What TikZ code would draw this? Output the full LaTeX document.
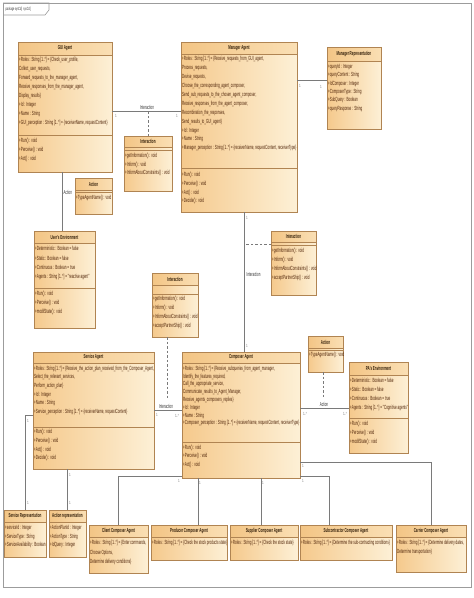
\documentclass[tikz,border=0pt]{standalone}
\usepackage{fontspec}
\newfontfamily\uf[FakeStretch=0.51]{Liberation Sans}
\usetikzlibrary{shadows,calc,arrows.meta}
\definecolor{bodyL}{HTML}{F5C98C}
\definecolor{bodyR}{HTML}{FDF0D6}
\definecolor{hdrL}{HTML}{F3C585}
\definecolor{hdrR}{HTML}{FADFB4}
\definecolor{bord}{HTML}{B08452}
\definecolor{txtc}{HTML}{4E2308}
\definecolor{ttlc}{HTML}{34200A}
\definecolor{wire}{HTML}{7A7A7A}
\definecolor{framec}{HTML}{9C9C9C}
\tikzset{
 cls/.style={draw=bord, line width=0.5pt, left color=bodyL, right color=bodyR, inner sep=0pt, outer sep=0pt,
   drop shadow={shadow xshift=1.3pt, shadow yshift=-1.3pt, opacity=0.3, fill=black}},
 hdr/.style={draw=bord, line width=0.5pt, left color=hdrL, right color=hdrR, inner sep=0pt, outer sep=0pt,
   font=\uf\bfseries\fontsize{5.8}{6}\selectfont, text=ttlc},
 utext/.style={inner sep=0pt, outer sep=0pt, align=left, text=txtc, anchor=north west},
 sepl/.style={draw=bord, line width=0.5pt},
 assoc/.style={draw=wire, line width=0.6pt},
 dashl/.style={draw=wire, line width=0.6pt, dash pattern=on 2.5pt off 2pt},
 lbl/.style={inner sep=0.5pt, font=\uf\fontsize{5.8}{6}\selectfont, text=black!80},
 mult/.style={inner sep=0.5pt, font=\uf\fontsize{4.5}{5}\selectfont, text=black!65},
}
\newcommand\ucls[7]{%
 \node[cls, minimum width=#4pt, minimum height=#5pt, anchor=north west] (#1) at (#2,#3) {};
 \node[hdr, minimum width=#4pt, minimum height=#6pt, anchor=north west] (#1-t) at (#1.north west) {#7};}
\newcommand\usep[2]{\draw[sepl] ([yshift=-#2pt]#1.north west) -- ([yshift=-#2pt]#1.north east);}
\newcommand\utxt[5]{\node[utext, font=\uf\fontsize{6}{#4}\selectfont] (#1) at ([xshift=1.2pt,yshift=-#3pt]#2.north west) {#5};}
\begin{document}
\begin{tikzpicture}[x=1pt,y=-1pt]
\useasboundingbox (0,0) rectangle (474,598);
\fill[white] (0,0) rectangle (474,598);
% package frame
\node[draw=framec, line width=0.7pt, minimum width=468pt, minimum height=584pt, anchor=north west, inner sep=0pt] (pkg) at (3,3) {};
\draw[draw=framec, line width=0.6pt] (pkg.north west) -- ++(46,0) -- ++(0,7) -- ++(-4,5) -- ++(-42,0);
\node[lbl, font=\uf\fontsize{4.5}{5}\selectfont, anchor=west] (tab) at (5,9) {package sysCd[ \,sysCd ]};

% ---------- classes ----------
\ucls{gui}{18}{42}{94}{130}{13}{GUI Agent}
\usep{gui}{93}
\utxt{gui-a}{gui}{15.5}{8.9}{+Roles : String [1..*] = \{Check\_user\_profile,\\
Collect\_user\_requests,\\
Forward\_requests\_to\_the\_manager\_agent,\\
Receive\_responses\_from\_the\_manager\_agent,\\
Display\_results\}\\
+Id : Integer\\
+Name : String\\
+GUI\_perception : String [1..*] = \{receiverName, requestContent\}}
\utxt{gui-o}{gui}{96.5}{8.6}{+Run() : void\\ +Perceive() : void\\ +Act() : void}

\ucls{mgr}{181}{42}{116}{170}{12}{Manager Agent}
\usep{mgr}{126}
\utxt{mgr-a}{mgr}{14.5}{8.9}{+Roles : String [1..*] = \{Receive\_requests\_from\_GUI\_agent,\\
Process\_requests,\\
Devise\_requests,\\
Choose\_the\_corresponding\_agent\_composer,\\
Send\_sub\_requests\_to\_the\_chosen\_agent\_composer,\\
Receive\_responses\_from\_the\_agent\_composer,\\
Recombination\_the\_responses,\\
Send\_results\_to\_GUI\_agent\}\\
+Id : Integer\\
+Name : String\\
+Manager\_perception : String [1..*] = \{receiverName, requestContent, receiverType\}}
\utxt{mgr-o}{mgr}{130.5}{8.7}{+Run() : void\\ +Perceive() : void\\ +Act() : void\\ +Decide() : void}

\ucls{mrep}{327}{47}{54}{82}{14}{Manager Representation}
\utxt{mrep-a}{mrep}{17}{8.4}{+queryId : Integer\\ +queryContent : String\\ +IdComposer : Integer\\ +ComposerType : String\\ +SubQuery : Boolean\\ +queryResponse : String}

\ucls{itop}{124}{136}{48}{55}{11}{Interaction}
\usep{itop}{14}
\utxt{itop-o}{itop}{17}{8.8}{+getInformation() : void\\ +Inform() : void\\ +InformAboutConstraints() : void}

\ucls{act1}{75}{178}{37}{36}{12}{Action}
\usep{act1}{14}
\utxt{act1-o}{act1}{17}{8.6}{+TypeAgentName() : void}

\ucls{uenv}{34}{231}{61}{97}{12}{User's Environment}
\usep{uenv}{57}
\utxt{uenv-a}{uenv}{15.5}{9.2}{+Deterministic : Boolean = false\\ +Static : Boolean = false\\ +Continuous : Boolean = true\\ +Agents : String [1..*] = "reactive agent"}
\utxt{uenv-o}{uenv}{60.5}{9}{+Run() : void\\ +Perceive() : void\\ +modifState() : void}

\ucls{iright}{271}{231}{45}{64}{11}{Interaction}
\usep{iright}{14}
\utxt{iright-o}{iright}{17.5}{8.8}{+getInformation() : void\\ +Inform() : void\\ +InformAboutConstraints() : void\\ +acceptPartnerShip() : void}

\ucls{imid}{152}{273}{46}{64}{12}{Interaction}
\usep{imid}{21}
\utxt{imid-o}{imid}{23.5}{9}{+getInformation() : void\\ +Inform() : void\\ +InformAboutConstraints() : void\\ +acceptPartnerShip() : void}

\ucls{comp}{182}{352}{118}{126}{11}{Composer Agent}
\usep{comp}{90}
\utxt{comp-a}{comp}{14}{7.8}{+Roles : String [1..*] = \{Receive\_subqueries\_from\_agent\_manager,\\
Identify\_the\_features\_required,\\
Call\_the\_appropriate\_service,\\
Communicate\_results\_to\_Agent\_Manager,\\
Receive\_agents\_composers\_replies\}\\
+Id : Integer\\
+Name : String\\
+Composer\_perception : String [1..*] = \{receiverName, requestContent, receiverType\}}
\utxt{comp-o}{comp}{93}{8.5}{+Run() : void\\ +Perceive() : void\\ +Act() : void}

\ucls{act2}{308}{336}{35}{36}{12}{Action}
\usep{act2}{14}
\utxt{act2-o}{act2}{16.5}{8.6}{+TypeAgentName() : void}

\ucls{pa}{349}{362}{59}{91}{13}{PA's Environment}
\usep{pa}{56}
\utxt{pa-a}{pa}{16.5}{9}{+Deterministic : Boolean = false\\ +Static : Boolean = false\\ +Continuous : Boolean = true\\ +Agents : String [1..*] = "Cognitive agents"}
\utxt{pa-o}{pa}{59.5}{9}{+Run() : void\\ +Perceive() : void\\ +modifState() : void}

\ucls{svc}{33}{352}{121}{117}{11}{Service Agent}
\usep{svc}{75}
\utxt{svc-a}{svc}{14}{8.6}{+Roles : String [1..*] = \{Receive\_the\_action\_plan\_received\_from\_the\_Composer\_Agent,\\
Select\_the\_relevant\_services,\\
Perform\_action\_plan\}\\
+Id : Integer\\
+Name : String\\
+Service\_perception : String [1..*] = \{receiverName, requestContent\}}
\utxt{svc-o}{svc}{77.5}{8.7}{+Run() : void\\ +Perceive() : void\\ +Act() : void\\ +Decide() : void}

\ucls{srep}{4}{510}{42}{47}{12}{Service Representation}
\utxt{srep-a}{srep}{15.5}{8.5}{+serviceId : Integer\\ +ServiceType : String\\ +ServiceAvailability : Boolean}

\ucls{arep}{49}{510}{37}{47}{12}{Action representation}
\utxt{arep-a}{arep}{15.5}{8.5}{+ActionPlanId : Integer\\ +ActionType : String\\ +IdQuery : Integer}

\ucls{client}{89}{525}{59}{48}{12}{Client Composer Agent}
\utxt{client-a}{client}{15.5}{9.5}{+Roles : String [1..*] = \{Enter commands,\\ Choose Options,\\ Determine delivery conditions\}}

\ucls{prod}{151}{525}{76}{35}{12}{Producer Composer Agent}
\utxt{prod-a}{prod}{15.5}{9}{+Roles : String [1..*] = \{Check the stock products state\}}

\ucls{supp}{230}{525}{68}{35}{12}{Supplier Composer Agent}
\utxt{supp-a}{supp}{15.5}{9}{+Roles : String [1..*] = \{Check the stock state\}}

\ucls{subc}{300}{525}{92}{35}{12}{Subcontractor Composer Agent}
\utxt{subc-a}{subc}{15.5}{9}{+Roles : String [1..*] = \{Determine the sub-contracting conditions\}}

\ucls{carr}{396}{525}{70}{47}{12}{Carrier Composer Agent}
\utxt{carr-a}{carr}{15.5}{9}{+Roles : String [1..*] = \{Determine delivery dates,\\ Determine transportation\}}

% ---------- connectors ----------
\draw[assoc] (gui.east |- 0,111) -- (mgr.west |- 0,111);
\node[lbl, anchor=south] (l1) at (147,110) {Interaction};
\draw[dashl] (itop.north) -- (itop.north |- 0,112);
\node[mult] (m1) at (116,116) {1};
\node[mult] (m2) at (177,116) {1};

\draw[assoc] (mgr.east |- 0,80) -- (mrep.west |- 0,80);
\node[mult] (m3) at (300,86) {1};
\node[mult] (m4) at (321,87) {1};

\draw[assoc] (gui.south -| 62,0) -- (uenv.north -| 62,0);
\node[lbl, anchor=west] (l2) at (63,192) {Action};

\draw[assoc] (mgr.south -| 244,0) -- (comp.north -| 244,0);
\node[lbl, anchor=west] (l3) at (246,274) {Interaction};
\node[mult] (m5) at (247,218) {1};
\node[mult] (m6) at (247,346) {1};
\coordinate (dr) at ([yshift=-13pt]iright.north west);
\draw[dashl] (dr) -- (dr -| 244,0);

\draw[assoc] (svc.east |- 0,410) -- (comp.west |- 0,410);
\node[lbl, anchor=south] (l4) at (166,409) {Interaction};
\coordinate (dm) at ([xshift=-8pt]imid.south);
\draw[dashl] (dm) -- (dm |- 0,399);
\node[mult] (m7) at (157,415) {1};
\node[mult] (m8) at (177,416) {1..*};

\draw[assoc] (comp.east |- 0,408) -- (pa.west |- 0,408);
\node[lbl, anchor=south] (l5) at (324,407) {Action};
\draw[dashl] (act2.south -| 323,0) -- (323,398);
\node[mult] (m9) at (305,414) {1..*};
\node[mult] (m10) at (345,414) {1..*};

\draw[assoc] (svc.west |- 0,415) -| (srep.north);
\node[mult] (m11) at (28,421) {1};
\node[mult] (m12) at (28,503) {1};

\draw[assoc] (arep.north |- svc.south) -- (arep.north);
\node[mult] (m13) at (70,475) {1};
\node[mult] (m14) at (70,503) {1};

\draw[assoc] (client.north) |- ([yshift=1.5pt]comp.south west);
\coordinate (cp) at ([xshift=9pt]prod.north);
\draw[assoc] (cp) -- (cp |- comp.south);
\coordinate (cs) at ([xshift=-3pt]supp.north);
\draw[assoc] (cs) -- (cs |- comp.south);
\coordinate (cb) at ([xshift=-17pt]subc.north);
\draw[assoc] (cb) |- ([yshift=1.5pt]comp.south east);
\draw[assoc] (carr.north) |- ([yshift=16pt]comp.south east);
\node[mult] (m15) at (179,481) {1};
\node[mult] (m16) at (200,483) {1};
\node[mult] (m17) at (263,483) {1};
\node[mult] (m18) at (303,481) {1};
\node[mult] (m19) at (303,466) {1};
\end{tikzpicture}
\end{document}
